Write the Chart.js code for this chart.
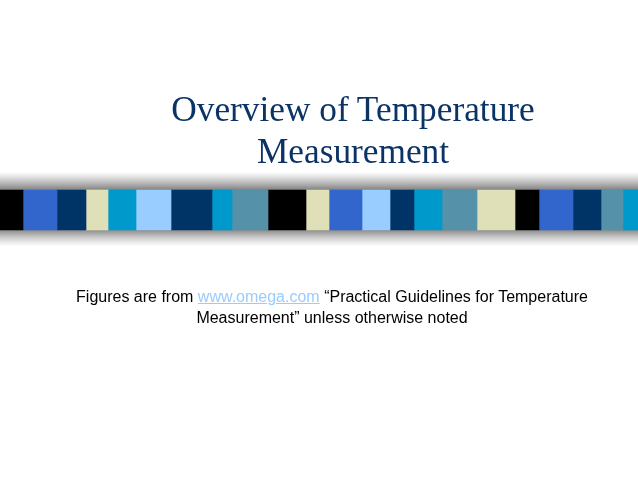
<!DOCTYPE html>
<html>
<head>
<meta charset="utf-8">
<script src="https://cdn.jsdelivr.net/npm/chart.js@4.4.0/dist/chart.umd.min.js"></script>
<style>
  html, body { margin: 0; padding: 0; background: #fff; }
  #wrap { position: relative; width: 638px; height: 478px; overflow: hidden; }
  #band { position: absolute; left: 0; top: 0; width: 638px; height: 478px; }
  .titre {
    position: absolute; left: 153px; width: 400px; top: 89px;
    text-align: center; color: #0b3366;
    font-family: "Liberation Serif", "Times New Roman", serif;
    font-size: 35.3px; line-height: 42px; white-space: nowrap;
  }
  .sous-titre {
    position: absolute; left: 32px; width: 600px; top: 286px;
    text-align: center; color: #000;
    font-family: "Liberation Sans", Arial, sans-serif;
    font-size: 16px; line-height: 21px; white-space: nowrap;
  }
  .sous-titre a { color: #99ccff; text-decoration: underline; }
</style>
</head>
<body>
<div id="wrap">
  <div id="band"><canvas id="myChart"></canvas></div>
  <div class="titre">Overview of Temperature<br>Measurement</div>
  <div class="sous-titre">Figures are from <a href="#">www.omega.com</a> “Practical Guidelines for Temperature<br>Measurement” unless otherwise noted</div>
</div>
<script>
// largeurs des blocs de la bande (de gauche a droite)
let largeurs = [23, 34, 29, 22, 28, 35, 41, 20, 36, 38, 23, 33, 28, 24, 28, 35, 38, 24, 34, 28, 22, 16];
// couleur de chaque bloc
let couleurs = ["#000000", "#3366cc", "#003366", "#e0e0b8", "#0099cc", "#99ccff", "#003366", "#0099cc",
  "#5591a9", "#000000", "#e0e0b8", "#3366cc", "#99ccff", "#003366", "#0099cc", "#5591a9",
  "#e0e0b8", "#000000", "#3366cc", "#003366", "#5591a9", "#0099cc"];
let labels = ["bande"];

let datasets = [];
for (let i = 0; i < largeurs.length; ++i) {
  datasets.push({
    label: "bloc " + (i + 1),
    data: [largeurs[i]],
    backgroundColor: couleurs[i],
    borderWidth: 0,
    barThickness: 40,
  });
}

// ombre grise au-dessus et en dessous de la bande
const ombre = {
  id: "ombre",
  beforeDatasetsDraw(chart) {
    let ctx = chart.ctx;
    let w = chart.width;
    let haut = ctx.createLinearGradient(0, 172, 0, 191);
    haut.addColorStop(0, "rgba(150,150,150,0)");
    haut.addColorStop(1, "rgba(120,120,120,1)");
    ctx.fillStyle = haut;
    ctx.fillRect(0, 172, w, 19);
    let bas = ctx.createLinearGradient(0, 229, 0, 246);
    bas.addColorStop(0, "rgba(130,130,130,1)");
    bas.addColorStop(1, "rgba(170,170,170,0)");
    ctx.fillStyle = bas;
    ctx.fillRect(0, 229, w, 17);
  },
};

const config = {
  type: "bar",
  data: { labels: labels, datasets: datasets },
  options: {
    indexAxis: "y",
    responsive: true,
    maintainAspectRatio: false,
    animation: false,
    layout: { padding: { left: 0, right: 0, top: 0, bottom: 58 } },
    plugins: { legend: false, tooltip: { enabled: false } },
    scales: {
      x: { stacked: true, display: false, min: 0, max: 638 },
      y: { stacked: true, display: false },
    },
  },
  plugins: [ombre],
};

let context = document.getElementById("myChart").getContext("2d");
let chart = new Chart(context, config);
</script>
</body>
</html>
